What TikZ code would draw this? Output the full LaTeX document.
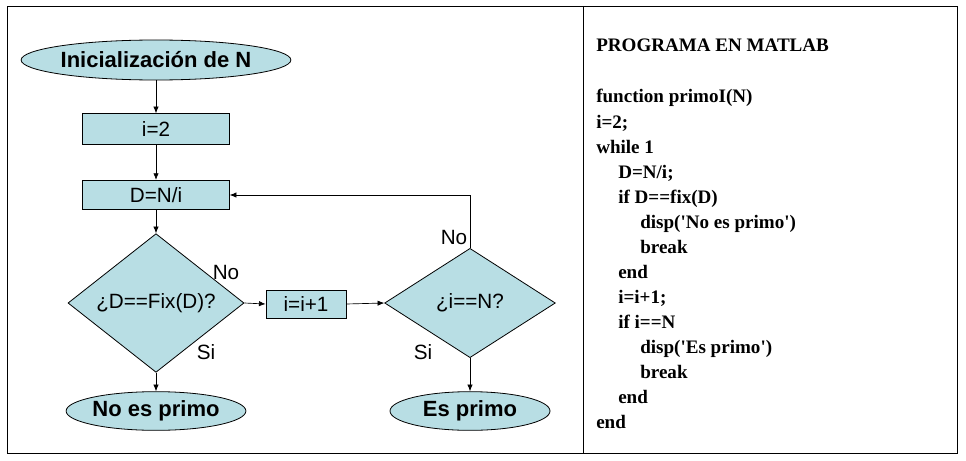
\documentclass[tikz,border=0pt]{standalone}
\usepackage{fontspec}
\setmainfont{Liberation Serif}
\newfontfamily\arial{Liberation Sans}
\usetikzlibrary{shapes.geometric,arrows.meta}
\definecolor{fc}{RGB}{184,222,228}
\begin{document}
\begin{tikzpicture}[x=0.75pt,y=-0.75pt,
  base/.style={draw=black,fill=fc,font=\arial\fontsize{15.5}{17}\selectfont,inner sep=0pt,line width=0.6pt},
  term/.style={base,ellipse,font=\arial\bfseries\fontsize{16.5}{18}\selectfont},
  box/.style={base,rectangle},
  dec/.style={base,diamond},
  arr/.style={-{Latex[length=5pt,width=4pt]},line width=0.5pt},
  lbl/.style={font=\arial\fontsize{15.5}{17}\selectfont},
  code/.style={anchor=base west,font=\bfseries\fontsize{14.3}{16}\selectfont,inner sep=0pt}]
\useasboundingbox (0,0) rectangle (966,460);
\draw[line width=0.6pt] (7,6) rectangle (957,453);
\draw[line width=0.6pt] (583,6) -- (583,453);
\node[term,minimum width=185pt,minimum height=30pt] (s) at (156,60) {Inicialización de N};
\node[box,minimum width=110pt,minimum height=23pt] (i2) at (156,129) {i=2};
\node[box,minimum width=110pt,minimum height=22pt] (d) at (156,195) {D=N/i};
\node[dec,minimum width=132pt,minimum height=82pt] (q1) at (156,303) {¿D==Fix(D)?};
\node[box,minimum width=60pt,minimum height=21pt] (inc) at (306,304) {i=i+1};
\node[dec,minimum width=128pt,minimum height=82pt] (q2) at (470,303) {¿i==N?};
\node[term,minimum width=120pt,minimum height=29pt] (no) at (156,411) {No es primo};
\node[term,minimum width=120pt,minimum height=29pt] (es) at (470,411) {Es primo};
\draw[arr] (s) -- (i2);
\draw[arr] (i2) -- (d);
\draw[arr] (d) -- (q1);
\draw[arr] (q1.east) -- (inc.west);
\draw[arr] (inc.east) -- (q2.west);
\draw[arr] (q1) -- (no);
\draw[arr] (q2) -- (es);
\draw[arr] (q2.north) |- (d.east);
\node[lbl] at (226,272) {No};
\node[lbl] at (206,352) {Si};
\node[lbl] at (454,237) {No};
\node[lbl] at (423,352) {Si};
\node[code] at (596,52) {PROGRAMA EN MATLAB};
\node[code] at (596,103) {function primoI(N)};
\node[code] at (596,128) {i=2;};
\node[code] at (596,153) {while 1};
\node[code] at (618,178) {D=N/i;};
\node[code] at (618,203) {if D==fix(D)};
\node[code] at (640,228) {disp(\textquotesingle No es primo\textquotesingle)};
\node[code] at (640,253) {break};
\node[code] at (618,278) {end};
\node[code] at (618,303) {i=i+1;};
\node[code] at (618,328) {if i==N};
\node[code] at (640,353) {disp(\textquotesingle Es primo\textquotesingle)};
\node[code] at (640,378) {break};
\node[code] at (618,403) {end};
\node[code] at (596,428) {end};
\end{tikzpicture}
\end{document}
